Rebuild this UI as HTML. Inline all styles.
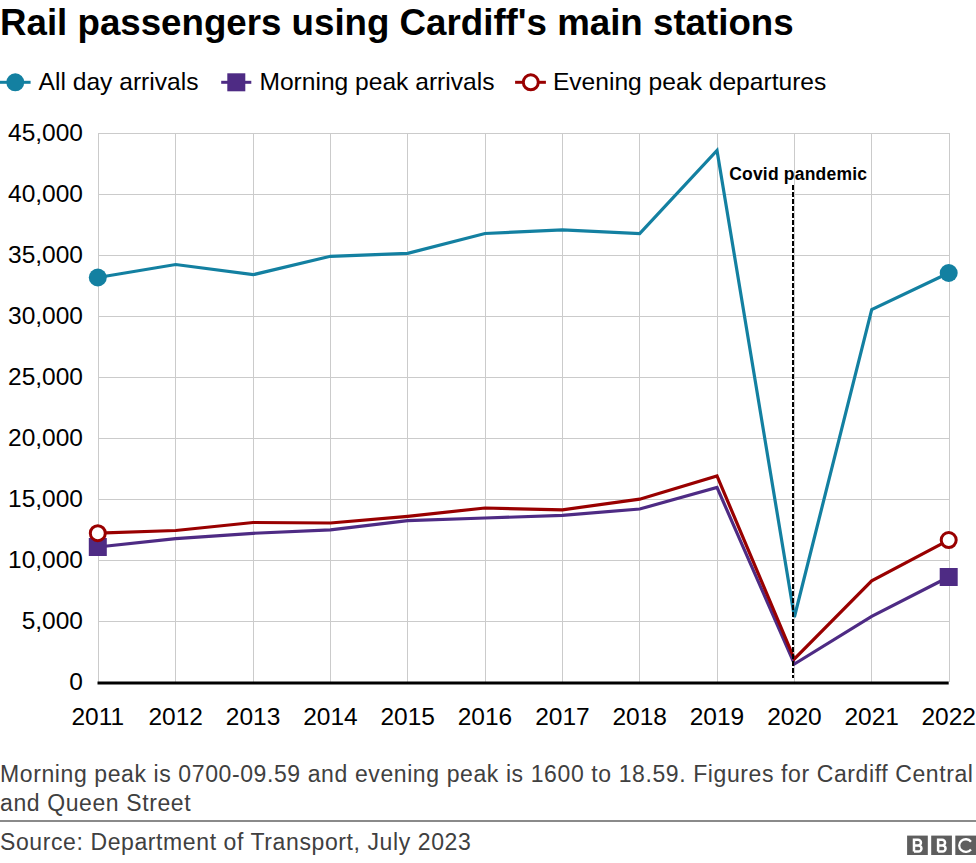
<!DOCTYPE html>
<html><head><meta charset="utf-8"><style>
html,body{margin:0;padding:0;background:#fff;width:976px;height:863px;overflow:hidden}
svg{display:block}
text{font-family:"Liberation Sans", sans-serif}
.title{font-weight:bold;font-size:36.7px;fill:#000}
.leg{font-size:24.6px;fill:#000}
.ax{font-size:24.5px;fill:#000}
.foot{font-size:23px;fill:#404040;letter-spacing:0.6px}
.covid{font-weight:bold;font-size:17.5px;fill:#000;letter-spacing:0.2px}
.bbc{font-weight:bold;font-size:17px;fill:#fff}
</style></head><body>
<svg width="976" height="863" viewBox="0 0 976 863">
<line x1="98" y1="133.5" x2="950" y2="133.5" stroke="#cbcbcb" stroke-width="1"/>
<line x1="98" y1="194.5" x2="950" y2="194.5" stroke="#cbcbcb" stroke-width="1"/>
<line x1="98" y1="255.5" x2="950" y2="255.5" stroke="#cbcbcb" stroke-width="1"/>
<line x1="98" y1="316.5" x2="950" y2="316.5" stroke="#cbcbcb" stroke-width="1"/>
<line x1="98" y1="377.5" x2="950" y2="377.5" stroke="#cbcbcb" stroke-width="1"/>
<line x1="98" y1="438.5" x2="950" y2="438.5" stroke="#cbcbcb" stroke-width="1"/>
<line x1="98" y1="499.5" x2="950" y2="499.5" stroke="#cbcbcb" stroke-width="1"/>
<line x1="98" y1="560.5" x2="950" y2="560.5" stroke="#cbcbcb" stroke-width="1"/>
<line x1="98" y1="621.5" x2="950" y2="621.5" stroke="#cbcbcb" stroke-width="1"/>
<line x1="98.5" y1="133" x2="98.5" y2="682" stroke="#cbcbcb" stroke-width="1"/>
<line x1="175.5" y1="133" x2="175.5" y2="682" stroke="#cbcbcb" stroke-width="1"/>
<line x1="253.5" y1="133" x2="253.5" y2="682" stroke="#cbcbcb" stroke-width="1"/>
<line x1="330.5" y1="133" x2="330.5" y2="682" stroke="#cbcbcb" stroke-width="1"/>
<line x1="407.5" y1="133" x2="407.5" y2="682" stroke="#cbcbcb" stroke-width="1"/>
<line x1="485.5" y1="133" x2="485.5" y2="682" stroke="#cbcbcb" stroke-width="1"/>
<line x1="562.5" y1="133" x2="562.5" y2="682" stroke="#cbcbcb" stroke-width="1"/>
<line x1="639.5" y1="133" x2="639.5" y2="682" stroke="#cbcbcb" stroke-width="1"/>
<line x1="717.5" y1="133" x2="717.5" y2="682" stroke="#cbcbcb" stroke-width="1"/>
<line x1="794.5" y1="133" x2="794.5" y2="682" stroke="#cbcbcb" stroke-width="1"/>
<line x1="871.5" y1="133" x2="871.5" y2="682" stroke="#cbcbcb" stroke-width="1"/>
<line x1="949.5" y1="133" x2="949.5" y2="682" stroke="#cbcbcb" stroke-width="1"/>
<line x1="97.5" y1="683" x2="948.7" y2="683" stroke="#000" stroke-width="3"/>
<text x="83" y="140.6" text-anchor="end" class="ax">45,000</text>
<text x="83" y="201.6" text-anchor="end" class="ax">40,000</text>
<text x="83" y="262.6" text-anchor="end" class="ax">35,000</text>
<text x="83" y="323.6" text-anchor="end" class="ax">30,000</text>
<text x="83" y="384.6" text-anchor="end" class="ax">25,000</text>
<text x="83" y="445.6" text-anchor="end" class="ax">20,000</text>
<text x="83" y="506.6" text-anchor="end" class="ax">15,000</text>
<text x="83" y="567.6" text-anchor="end" class="ax">10,000</text>
<text x="83" y="628.6" text-anchor="end" class="ax">5,000</text>
<text x="83" y="689.6" text-anchor="end" class="ax">0</text>
<text x="97.8" y="725" text-anchor="middle" class="ax">2011</text>
<text x="175.7" y="725" text-anchor="middle" class="ax">2012</text>
<text x="253.1" y="725" text-anchor="middle" class="ax">2013</text>
<text x="330.4" y="725" text-anchor="middle" class="ax">2014</text>
<text x="407.7" y="725" text-anchor="middle" class="ax">2015</text>
<text x="485.0" y="725" text-anchor="middle" class="ax">2016</text>
<text x="562.4" y="725" text-anchor="middle" class="ax">2017</text>
<text x="639.7" y="725" text-anchor="middle" class="ax">2018</text>
<text x="717.0" y="725" text-anchor="middle" class="ax">2019</text>
<text x="794.4" y="725" text-anchor="middle" class="ax">2020</text>
<text x="871.7" y="725" text-anchor="middle" class="ax">2021</text>
<text x="948.7" y="725" text-anchor="middle" class="ax">2022</text>
<polyline points="97.8,277.5 175.7,264.5 253.1,274.7 330.4,256.3 407.7,253.4 485.0,233.5 562.4,229.9 639.7,233.7 717.0,150.4 794.4,617.0 871.7,309.5 948.7,273.0" fill="none" stroke="#1380A1" stroke-width="3.2" stroke-linejoin="miter"/>
<polyline points="97.8,547.0 175.7,538.6 253.1,533.3 330.4,529.8 407.7,520.6 485.0,518.0 562.4,515.4 639.7,509.0 717.0,487.4 794.4,664.0 871.7,616.4 948.7,577.0" fill="none" stroke="#4E2B84" stroke-width="3.2"/>
<polyline points="97.8,533.2 175.7,530.5 253.1,522.5 330.4,523.0 407.7,516.3 485.0,508.0 562.4,509.8 639.7,499.2 717.0,475.9 794.4,659.0 871.7,580.9 948.7,540.1" fill="none" stroke="#990000" stroke-width="3.2"/>
<circle cx="97.8" cy="277.5" r="9" fill="#1380A1"/>
<rect x="88.8" y="538.0" width="18" height="18" fill="#4E2B84"/>
<circle cx="97.8" cy="533.2" r="7.5" fill="#fff" stroke="#990000" stroke-width="3"/>
<circle cx="948.7" cy="273.0" r="9" fill="#1380A1"/>
<rect x="939.7" y="568.0" width="18" height="18" fill="#4E2B84"/>
<circle cx="948.7" cy="540.1" r="7.5" fill="#fff" stroke="#990000" stroke-width="3"/>
<line x1="793" y1="185" x2="793" y2="678" stroke="#000" stroke-width="2" stroke-dasharray="5,2"/>
<text x="729.2" y="180.1" class="covid">Covid pandemic</text>
<text x="0" y="34.7" class="title">Rail passengers using Cardiff's main stations</text>
<line x1="0" y1="82.3" x2="30.6" y2="82.3" stroke="#1380A1" stroke-width="3"/>
<circle cx="15.3" cy="82.3" r="9" fill="#1380A1"/>
<text x="38.6" y="89.5" class="leg">All day arrivals</text>
<line x1="221.2" y1="82.3" x2="251.3" y2="82.3" stroke="#4E2B84" stroke-width="3"/>
<rect x="227.3" y="73.3" width="18" height="18" fill="#4E2B84"/>
<text x="259.4" y="89.5" class="leg">Morning peak arrivals</text>
<line x1="515.1" y1="82.3" x2="545.9" y2="82.3" stroke="#990000" stroke-width="3"/>
<circle cx="530.8" cy="82.3" r="7.5" fill="#fff" stroke="#990000" stroke-width="3"/>
<text x="552.9" y="89.5" class="leg">Evening peak departures</text>
<text x="0" y="781.5" class="foot">Morning peak is 0700-09.59 and evening peak is 1600 to 18.59. Figures for Cardiff Central</text>
<text x="0" y="810.7" class="foot">and Queen Street</text>
<line x1="0" y1="821" x2="976" y2="821" stroke="#8a8a8a" stroke-width="2"/>
<text x="0" y="849.7" class="foot">Source: Department of Transport, July 2023</text>
<rect x="907.1" y="835.6" width="20.7" height="19.4" fill="#5e5e5e"/>
<rect x="931.2" y="835.6" width="20.7" height="19.4" fill="#5e5e5e"/>
<rect x="955.3" y="835.6" width="20.7" height="19.4" fill="#5e5e5e"/>
<path d="M914,851.5 V839.7 H918 A2.95,2.95 0 0 1 918,845.6 H914 M918,845.6 H918.5 A2.95,2.95 0 0 1 918.5,851.5 H914 M938.1,851.5 V839.7 H942.1 A2.95,2.95 0 0 1 942.1,845.6 H938.1 M942.1,845.6 H942.6 A2.95,2.95 0 0 1 942.6,851.5 H938.1" fill="none" stroke="#fff" stroke-width="2.5" stroke-linejoin="miter"/>
<path d="M971.00,841.67 A6.6,6.3 0 1 0 971.00,849.43" fill="none" stroke="#fff" stroke-width="2.3"/>
</svg>
</body></html>
